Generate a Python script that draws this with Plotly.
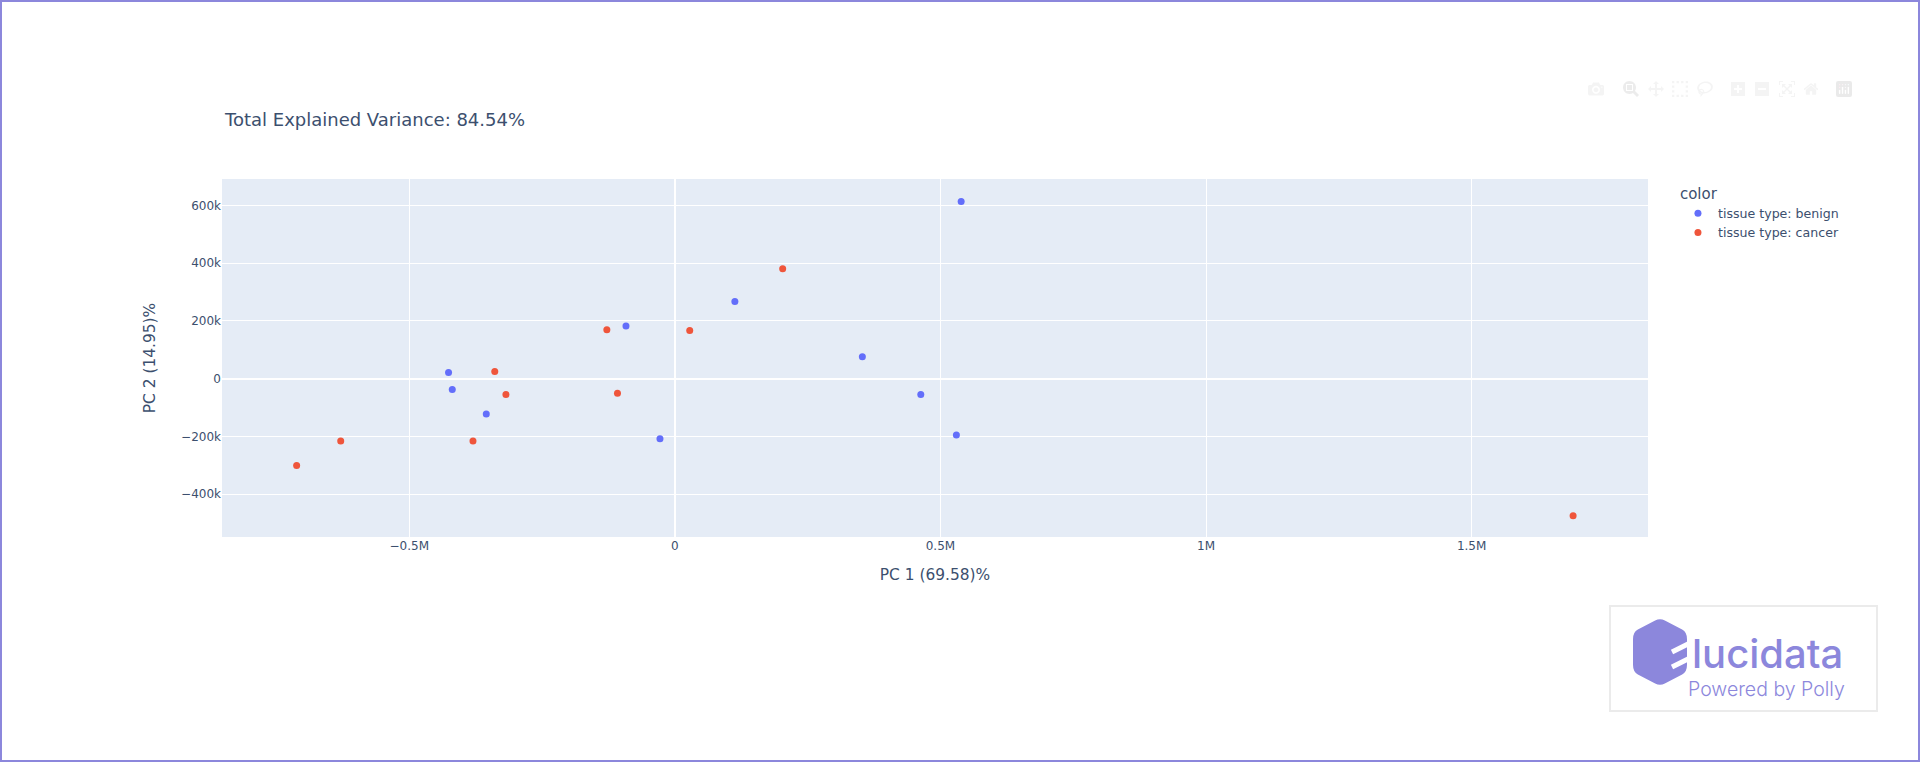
import plotly.graph_objects as go

W, H = 1920, 762
PLOT_L, PLOT_R, PLOT_T, PLOT_B = 222, 1648, 179, 537
LOGO = "#8c87dc"
FONT = "DejaVu Sans"
TEXT = "#3c4f6e"

benign_x = [539000, 113000, -92000, 353000, -426000, -419000, 463000, -355000, -28000, 530000]
benign_y = [614000, 267000, 182000, 76000, 21000, -38000, -55000, -123000, -208000, -195000]
cancer_x = [203000, -128000, 28000, -339000, -318000, -108000, -380000, -629000, -712000, 1691000]
cancer_y = [381000, 169000, 167000, 25000, -55000, -51000, -216000, -216000, -301000, -475000]

x_ticks = [-500000, 0, 500000, 1000000, 1500000]
x_labels = ["−0.5M", "0", "0.5M", "1M", "1.5M"]
y_ticks = [-400000, -200000, 0, 200000, 400000, 600000]
y_labels = ["−400k", "−200k", "0", "200k", "400k", "600k"]


# page pixels -> paper coordinates, the frame and logo sit outside the axes
def px(x):
    return (x - PLOT_L) / (PLOT_R - PLOT_L)


def py(y):
    return (PLOT_B - y) / (PLOT_B - PLOT_T)


def rounded_path(points, t=0.18):
    # closed polygon with each corner replaced by a small quadratic curve
    n = len(points)
    out = []
    for i, (x, y) in enumerate(points):
        xp, yp = points[i - 1]
        xn, yn = points[(i + 1) % n]
        a = (x + (xp - x) * t, y + (yp - y) * t)
        b = (x + (xn - x) * t, y + (yn - y) * t)
        out.append(("M" if i == 0 else "L") + f" {px(a[0]):.5f},{py(a[1]):.5f}")
        out.append(f"Q {px(x):.5f},{py(y):.5f} {px(b[0]):.5f},{py(b[1]):.5f}")
    return " ".join(out) + " Z"


fig = go.Figure()
fig.add_trace(go.Scatter(x=benign_x, y=benign_y, mode="markers", name="tissue type: benign",
                         marker=dict(color="#636efa", size=7)))
fig.add_trace(go.Scatter(x=cancer_x, y=cancer_y, mode="markers", name="tissue type: cancer",
                         marker=dict(color="#ef553b", size=7)))

fig.update_layout(
    template="plotly",
    width=W, height=H,
    font=dict(family=FONT, color=TEXT, size=12),
    margin=dict(l=PLOT_L, r=W - PLOT_R, t=PLOT_T, b=H - PLOT_B, autoexpand=False),
    title=dict(text="Total Explained Variance: 84.54%", x=225 / W, xanchor="left",
               y=1 - 120 / H, yanchor="middle", font=dict(size=18, family=FONT, color=TEXT)),
    legend=dict(title=dict(text="color", font=dict(size=15)), x=1.021, y=1.0, tracegroupgap=0,
                font=dict(size=12.6)),
    modebar=dict(bgcolor="rgba(0,0,0,0)", color="rgba(68,68,68,0.06)", activecolor="rgba(68,68,68,0.1)"),
)
fig.update_xaxes(title_text="PC 1 (69.58)%", title_font=dict(size=15.4), range=[-852500, 1832000],
                 tickvals=x_ticks, ticktext=x_labels, title_standoff=17)
fig.update_yaxes(title_text="PC 2 (14.95)%", title_font=dict(size=15.4), range=[-549000, 692000],
                 tickvals=y_ticks, ticktext=y_labels, title_standoff=21)

# page frame
fig.add_shape(type="rect", xref="paper", yref="paper", x0=px(1), x1=px(W - 1), y0=py(H - 1), y1=py(1),
              line=dict(color=LOGO, width=2))
# logo box and hexagon
fig.add_shape(type="rect", xref="paper", yref="paper", x0=px(1610), x1=px(1877), y0=py(711), y1=py(606),
              line=dict(color="#ebebeb", width=2))
fig.add_shape(type="path", xref="paper", yref="paper", fillcolor=LOGO, line=dict(width=0),
              path=rounded_path([(1660, 618), (1687, 632), (1687, 672), (1660, 686), (1633, 672), (1633, 632)]))
for y0 in (652, 667):
    fig.add_shape(type="line", xref="paper", yref="paper", x0=px(1672), x1=px(1690), y0=py(y0), y1=py(y0 - 9),
                  line=dict(color="white", width=5))

fig.add_annotation(text="lucidata", xref="paper", yref="paper", x=px(1690), y=py(653), xanchor="left",
                   yanchor="middle", showarrow=False,
                   font=dict(family="Inter", size=40, weight=500, color=LOGO))
fig.add_annotation(text="Powered by Polly", xref="paper", yref="paper", x=px(1686), y=py(689), xanchor="left",
                   yanchor="middle", showarrow=False,
                   font=dict(family="Inter", size=19.5, weight=300, color=LOGO))

# modebar is faint but visible in the reference, and sits lower than plotly puts it
post = """
document.body.style.margin = '0';
var m = document.querySelector('.modebar-container');
if (m) { m.style.top = '76px'; m.style.right = '62px'; }
document.querySelectorAll('.modebar-btn').forEach(function (b) { b.style.marginLeft = '0.6px'; });
var groups = document.querySelectorAll('.modebar-group');
if (groups.length) { groups[0].style.marginRight = '3px'; }
var logo = document.querySelector('.modebar-btn--logo');
if (logo) { logo.style.opacity = '0.08'; }
"""
fig.write_html("out.html", config=dict(displayModeBar=True), post_script=post)
